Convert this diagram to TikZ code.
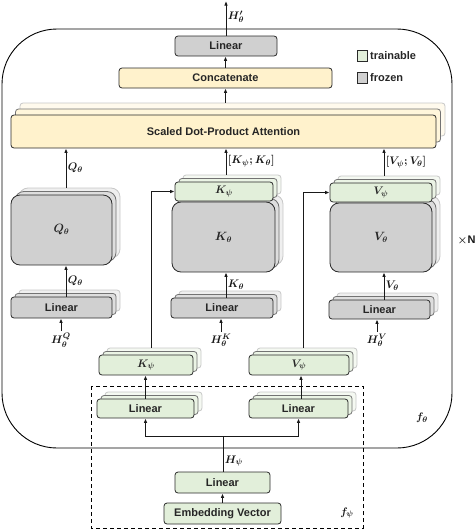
\documentclass[tikz,border=0pt]{standalone}
\usepackage{fontspec}
\newfontfamily\lsans{Liberation Sans}
\usetikzlibrary{shadows,arrows.meta,calc}
\definecolor{grayc}{HTML}{D0D0D0}
\definecolor{greenc}{HTML}{E2EFDA}
\definecolor{yellowc}{HTML}{FFF2CC}
\definecolor{edge}{HTML}{2A2A2A}
\tikzset{
  bx/.style={draw=edge, line width=0.8pt, rounded corners=3pt, inner sep=0pt,
    font=\lsans\bfseries\fontsize{11}{13}\selectfont, text=black!85},
  mbx/.style={bx, font=\fontsize{11}{13}\selectfont\boldmath},
  big/.style={bx, rounded corners=9pt, font=\fontsize{12}{14}\selectfont\boldmath},
  mlab/.style={font=\fontsize{11}{13}\selectfont\boldmath, inner sep=1.5pt, text=black!90},
  stk/.style n args={3}{
    general shadow={shadow xshift=#2*2pt, shadow yshift=#3*2pt, fill=#1!35!white, draw=black!22},
    general shadow={shadow xshift=#2*1pt, shadow yshift=#3*1pt, fill=#1!70!white, draw=black!55},
    fill=#1},
  arr/.style={-{Latex[length=4.5pt,width=3.6pt]}, line width=0.9pt, draw=black!90},
  ln/.style={line width=0.9pt, draw=black!90},
  legtxt/.style={font=\lsans\bfseries\fontsize{11}{13}\selectfont, inner sep=0pt, anchor=west, text=black!85},
}
\begin{document}
\begin{tikzpicture}[x=1pt,y=-1pt]
\useasboundingbox (0,0) rectangle (474,530);

% outer block f_theta
\draw[line width=0.9pt, rounded corners=55pt] (2,29) rectangle (452,448);
% dashed f_psi
\draw[line width=0.9pt, dashed, dash pattern=on 4pt off 3pt] (91,386) rectangle (363,528);

% top part
\node[bx, fill=grayc, minimum width=102pt, minimum height=20pt] (linTop) at (226,46) {Linear};
\node[bx, fill=yellowc, minimum width=213pt, minimum height=20pt] (concat) at (225.5,78) {Concatenate};
\node[bx, stk={yellowc}{4.5}{6}, minimum width=425pt, minimum height=33pt] (sdpa) at (223.5,131.5) {Scaled Dot-Product Attention};

% legend
\node[draw=edge, line width=0.7pt, fill=greenc, minimum width=10pt, minimum height=11pt, inner sep=0pt] (legG) at (362,55.5) {};
\node[legtxt] (legGt) at (370,55.5) {trainable};
\node[draw=edge, line width=0.7pt, fill=grayc, minimum width=10pt, minimum height=11pt, inner sep=0pt] (legF) at (362,77.5) {};
\node[legtxt] (legFt) at (370,77.5) {frozen};

% Q column
\node[big, stk={grayc}{4}{3.5}, minimum width=101pt, minimum height=70pt] (Qbig) at (61.5,230) {$Q_\theta$};
\node[bx, stk={grayc}{4}{3.5}, minimum width=101pt, minimum height=21pt] (linQ) at (61.5,307.5) {Linear};
\node[mlab] (hQ) at (61,340) {$H_\theta^Q$};

% K column
\node[big, stk={grayc}{4}{3.5}, minimum width=103pt, minimum height=70pt] (Kbig) at (223.5,237) {$K_\theta$};
\node[mbx, stk={greenc}{4}{3.5}, minimum width=98pt, minimum height=19pt] (Kpsi) at (224,191.5) {$K_\psi$};
\node[bx, stk={grayc}{4}{3.5}, minimum width=102pt, minimum height=20pt] (linK) at (222,308) {Linear};
\node[mlab] (hK) at (221,340) {$H_\theta^K$};

% V column
\node[big, stk={grayc}{4}{3.5}, minimum width=102pt, minimum height=69pt] (Vbig) at (381,237.5) {$V_\theta$};
\node[mbx, stk={greenc}{4}{3.5}, minimum width=102pt, minimum height=19pt] (Vpsi) at (381,192.5) {$V_\psi$};
\node[bx, stk={grayc}{4}{3.5}, minimum width=101pt, minimum height=19pt] (linV) at (379.5,309.5) {Linear};
\node[mlab] (hV) at (377,340) {$H_\theta^V$};

% lower green part
\node[mbx, stk={greenc}{4}{3.5}, minimum width=94pt, minimum height=20pt] (Kpsi2) at (146,365) {$K_\psi$};
\node[mbx, stk={greenc}{4}{3.5}, minimum width=100pt, minimum height=20pt] (Vpsi2) at (299,365) {$V_\psi$};
\node[bx, stk={greenc}{4}{3.5}, minimum width=97pt, minimum height=19pt] (linL) at (145.5,408.5) {Linear};
\node[bx, stk={greenc}{4}{3.5}, minimum width=99pt, minimum height=19pt] (linR) at (298.5,408.5) {Linear};
\node[bx, fill=greenc, minimum width=95pt, minimum height=21pt] (linB) at (222.5,482.5) {Linear};
\node[bx, fill=greenc, minimum width=117pt, minimum height=21pt] (emb) at (222.5,513.5) {Embedding Vector};

% labels
\node[mlab, anchor=west] (xN) at (456,240) {$\times$\textbf{\lsans N}};
\node[mlab] (fth) at (422,418) {$f_\theta$};
\node[mlab] (fps) at (347,513) {$f_\psi$};

% connectors
\coordinate (outTop) at (226,1);
\draw[arr] (linTop.north) -- (outTop) node[pos=0.55, right, mlab] {$H'_\theta$};
\draw[arr] (concat.north) -- (concat.north |- linTop.south);
\draw[arr] ([yshift=12pt]concat.south |- sdpa.north) -- (concat.south);

\draw[arr] ([xshift=4.5pt,yshift=7pt]Qbig.north) -- ([xshift=4.5pt]Qbig.north |- sdpa.south) node[midway, right, mlab] {$Q_\theta$};
\draw[arr] ([xshift=4.5pt]linQ.north) -- ([xshift=4.5pt]linQ.north |- Qbig.south) node[midway, right, mlab] {$Q_\theta$};
\draw[arr] (hQ.north) -- (hQ.north |- linQ.south);

\draw[arr] ([xshift=2pt,yshift=7pt]Kpsi.north) -- ([xshift=2pt]Kpsi.north |- sdpa.south) node[midway, right, mlab] {$[K_\psi;K_\theta]$};
\draw[arr] ([xshift=4pt]linK.north) -- ([xshift=4pt]linK.north |- Kbig.south) node[midway, right, mlab] {$K_\theta$};
\draw[arr] (hK.north) -- (hK.north |- linK.south);

\draw[arr] ([xshift=3pt,yshift=7pt]Vpsi.north) -- ([xshift=3pt]Vpsi.north |- sdpa.south) node[midway, right, mlab] {$[V_\psi;V_\theta]$};
\draw[arr] ([xshift=4.5pt]linV.north) -- ([xshift=4.5pt]linV.north |- Vbig.south) node[midway, right, mlab] {$V_\theta$};
\draw[arr] (hV.north) -- (hV.north |- linV.south);

\draw[arr] ([xshift=5pt,yshift=7pt]Kpsi2.north) |- (Kpsi.west);
\draw[arr] ([xshift=4pt,yshift=7pt]Vpsi2.north) |- (Vpsi.west);

\draw[arr] (linL.north) -- (linL.north |- Kpsi2.south);
\draw[arr] ([xshift=2.5pt]linR.north) -- ([xshift=2.5pt]linR.north |- Vpsi2.south);

\coordinate (br) at (223,436);
\draw[ln] (linB.north -| br) -- (br) node[pos=0.3, right, mlab] {$H_\psi$};
\draw[arr] (br) -| (linL.south);
\draw[arr] (br) -| (linR.south);
\draw[arr] (emb.north) -- (linB.south);
\end{tikzpicture}
\end{document}
